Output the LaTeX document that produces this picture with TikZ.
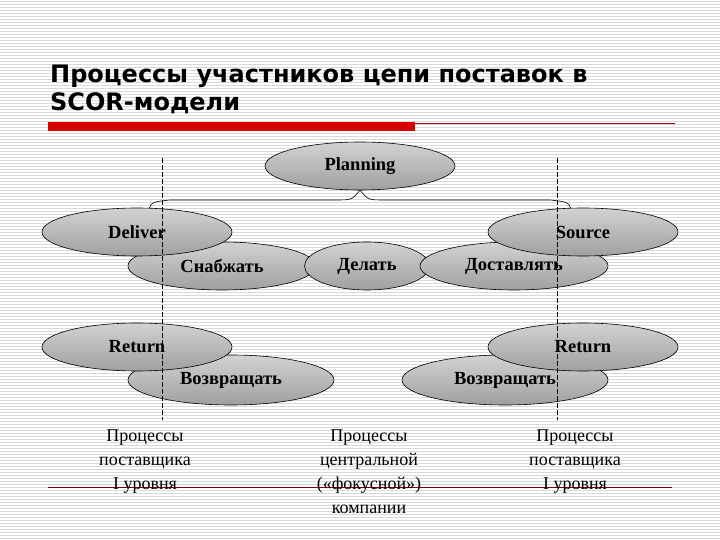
\documentclass[tikz,border=0pt]{standalone}
\usepackage{fontspec}
\setmainfont{Liberation Serif}
\newfontfamily\titlefont{DejaVu Sans}
\usetikzlibrary{shapes.geometric,decorations.pathreplacing}
\begin{document}
\begin{tikzpicture}[x=1pt,y=-1pt,
  ell/.style={ellipse,draw=black,line width=0.6pt,top color=gray!35,bottom color=gray!75,minimum width=190pt,minimum height=48pt,inner sep=0pt,font=\bfseries\fontsize{18.5}{20}\selectfont},
  lbl/.style={align=center,font=\fontsize{18}{24}\selectfont},
  dline/.style={dashed,line width=0.5pt,dash pattern=on 5pt off 2pt}]
\useasboundingbox (0,0) rectangle (720,540);
\fill[white] (0,0) rectangle (720,540);
\foreach \y in {1,4,...,540} \draw[gray!30,line width=0.6pt] (0,\y) -- (720,\y);
\node[anchor=west,font=\titlefont\bfseries\fontsize{24}{28}\selectfont,align=left,inner sep=0pt] (title) at (50,89) {Процессы участников цепи поставок в\\SCOR-модели};
\fill[red!85!black] (48,122) rectangle (415,131);
\coordinate (tl1) at (415,123);
\coordinate (tl2) at (675,123);
\draw[red!60!black,line width=0.6pt] (tl1) -- (tl2);
\coordinate (bl1) at (48,487);
\coordinate (bl2) at (672,487);
\draw[red!50!black,line width=0.6pt] (bl1) -- (bl2);
% brace
\coordinate (b1) at (148,216);
\coordinate (b2) at (572,216);
\draw[line width=0.6pt] (b1) .. controls (150,202) .. (170,200) -- (335,200) .. controls (352,200) .. (360,190) .. controls (368,200) .. (385,200) -- (550,200) .. controls (570,202) .. (b2);
\node[ell] (plan) at (360,166) {Planning};
\node[ell,minimum width=188pt] (snab) at (222,266) {Снабжать};
\node[ell,minimum width=125pt] (del) at (367,266) {Делать};
\node[ell,minimum width=188pt] (dost) at (514,266) {Доставлять};
\node[ell] (deliver) at (137,232) {Deliver};
\node[ell] (source) at (583,232) {Source};
\node[ell,minimum width=206pt,minimum height=50pt] (vozl) at (231,380) {Возвращать};
\node[ell,minimum width=206pt,minimum height=50pt] (vozr) at (505,380) {Возвращать};
\node[ell] (retl) at (137,347) {Return};
\node[ell] (retr) at (583,347) {Return};
\coordinate (d1a) at (162,158); \coordinate (d1b) at (162,420);
\coordinate (d2a) at (557,158); \coordinate (d2b) at (557,420);
\draw[dline] (d1a) -- (d1b);
\draw[dline] (d2a) -- (d2b);
\node[lbl,anchor=north] (t1) at (145,426) {Процессы\\поставщика\\I уровня};
\node[lbl,anchor=north] (t2) at (369,426) {Процессы\\центральной\\(«фокусной»)\\компании};
\node[lbl,anchor=north] (t3) at (575,426) {Процессы\\поставщика\\I уровня};
\end{tikzpicture}
\end{document}
